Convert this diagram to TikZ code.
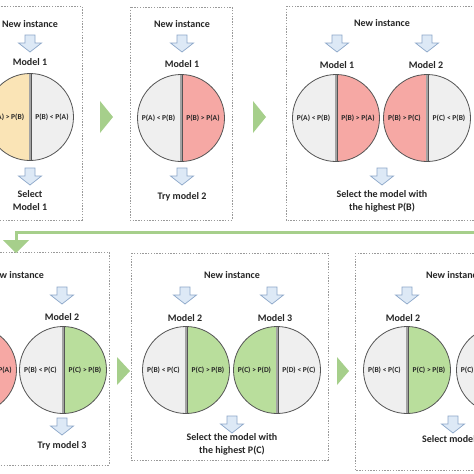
\documentclass[tikz,border=0pt]{standalone}
\usepackage{fontspec}
\setmainfont{Carlito}
\definecolor{gryhalf}{HTML}{EFEFEF}
\definecolor{redhalf}{HTML}{F6A8A4}
\definecolor{grnhalf}{HTML}{B9DE9C}
\definecolor{yelhalf}{HTML}{FAE4B6}
\definecolor{tri}{HTML}{A6CF8B}
\definecolor{bafill}{HTML}{DDE9F6}
\definecolor{badraw}{HTML}{8CA7C9}
\definecolor{outl}{HTML}{555555}
\definecolor{divg}{HTML}{A3A3A3}
\definecolor{panelc}{HTML}{9A9A9A}
\tikzset{
  hdr/.style={font=\fontsize{10}{12}\selectfont\bfseries, text=black!85, inner sep=0pt, align=center},
  lbl/.style={font=\fontsize{7.5}{9}\selectfont\bfseries, text=black!85, inner sep=0pt},
  panel/.style={draw=panelc, line width=0.6pt, dash pattern=on 1.4pt off 1.4pt},
  greentri/.style={fill=tri, draw=none},
  pics/model/.style n args={4}{code={
    \begin{scope}
      \clip (-44,-44) rectangle (0,44);
      \fill[#1] (0,0) circle[radius=43.5];
    \end{scope}
    \begin{scope}
      \clip (0,-44) rectangle (44,44);
      \fill[#2] (0,0) circle[radius=43.5];
    \end{scope}
    \draw[outl, line width=0.8pt] (0,0) circle[radius=43.5];
    \draw[outl, line width=3pt] (0,-43.5) -- (0,43.5);
    \draw[divg, line width=1.6pt] (0,-43) -- (0,43);
    \node[lbl] (-l) at (-22.5,0) {#3};
    \node[lbl] (-r) at (22,0) {#4};
  }},
  pics/barrow/.style={code={
    \draw[fill=bafill, draw=badraw, line width=0.7pt, line join=miter]
      (-5,0) -- (5,0) -- (5,8) -- (11.5,8) -- (0,17) -- (-11.5,8) -- (-5,8) -- cycle;
  }}
}
\begin{document}
\begin{tikzpicture}[x=1pt,y=-1pt]
\path[use as bounding box, clip] (0,0) rectangle (474,474);
\fill[white] (0,0) rectangle (474,474);

% ---------- panels ----------
\draw[panel] (-10,6) rectangle (82,220);
\draw[panel] (130,7) rectangle (232,220);
\draw[panel] (286,6) rectangle (490,220);
\draw[panel] (-10,252) rectangle (109,465);
\draw[panel] (131,253) rectangle (328,460);
\draw[panel] (355,253) rectangle (490,470);

% ---------- panel 1 ----------
\node[hdr] (p1new) at (30,24) {New instance};
\pic at (30,35) {barrow};
\node[hdr] (p1m1) at (30,62) {Model 1};
\pic (p1c) at (30,117) {model={yelhalf}{gryhalf}{P(A) > P(B)}{P(B) < P(A)}};
\pic at (30,168) {barrow};
\node[hdr] (p1sel) at (30,201) {Select\\[1pt]Model 1};

% ---------- panel 2 ----------
\node[hdr] (p2new) at (182,24) {New instance};
\pic at (182,35) {barrow};
\node[hdr] (p2m1) at (182,64) {Model 1};
\pic (p2c) at (181,118) {model={gryhalf}{redhalf}{P(A) < P(B)}{P(B) > P(A)}};
\pic at (182,168) {barrow};
\node[hdr] (p2try) at (182,197) {Try model 2};

% ---------- panel 3 ----------
\node[hdr] (p3new) at (382,23) {New instance};
\pic at (337,35) {barrow};
\pic at (427,35) {barrow};
\node[hdr] (p3m1) at (337,65) {Model 1};
\node[hdr] (p3m2) at (426,65) {Model 2};
\pic (p3c1) at (336,118) {model={gryhalf}{redhalf}{P(A) < P(B)}{P(B) > P(A)}};
\pic (p3c2) at (427,118) {model={redhalf}{gryhalf}{P(B) > P(C)}{P(C) < P(B)}};
\pic at (382,168) {barrow};
\node[hdr] (p3sel) at (382,201) {Select the model with\\[1pt]the highest P(B)};

% ---------- panel 4 ----------
\node[hdr] (p4new) at (16,275) {New instance};
\pic at (62,287) {barrow};
\node[hdr] (p4m2) at (62,317) {Model 2};
\pic (p4c1) at (-27,370) {model={gryhalf}{redhalf}{P(A) < P(B)}{P(B) > P(A)}};
\pic (p4c2) at (63,370) {model={gryhalf}{grnhalf}{P(B) < P(C)}{P(C) > P(B)}};
\pic at (62,418) {barrow};
\node[hdr] (p4try) at (62,446) {Try model 3};

% ---------- panel 5 ----------
\node[hdr] (p5new) at (232,275) {New instance};
\pic at (185,287) {barrow};
\pic at (272,287) {barrow};
\node[hdr] (p5m2) at (185,318) {Model 2};
\node[hdr] (p5m3) at (275,318) {Model 3};
\pic (p5c1) at (186,370) {model={gryhalf}{grnhalf}{P(B) < P(C)}{P(C) > P(B)}};
\pic (p5c2) at (277,370) {model={grnhalf}{gryhalf}{P(C) > P(D)}{P(D) < P(C)}};
\pic at (232,416) {barrow};
\node[hdr] (p5sel) at (232,444) {Select the model with\\[1pt]the highest P(C)};

% ---------- panel 6 ----------
\node[hdr] (p6new) at (454,275) {New instance};
\pic at (407,287) {barrow};
\node[hdr] (p6m2) at (403,318) {Model 2};
\pic (p6c1) at (407,370) {model={gryhalf}{grnhalf}{P(B) < P(C)}{P(C) > P(B)}};
\pic (p6c2) at (500,370) {model={gryhalf}{gryhalf}{P(C) < P(D)}{P(D) > P(C)}};
\pic at (453,416) {barrow};
\node[hdr, anchor=west] (p6sel) at (422,439) {Select model 2};

% ---------- green step triangles ----------
\fill[greentri] (100,101) -- (100,133) -- (113,117) -- cycle;
\fill[greentri] (253,101) -- (253,133) -- (266,117) -- cycle;
\fill[greentri] (117,357) -- (117,385) -- (130,371) -- cycle;
\fill[greentri] (337,357) -- (337,385) -- (349,371) -- cycle;

% ---------- row-change connector ----------
\coordinate (lstart) at (480,232);
\coordinate (lcorner) at (16,232);
\coordinate (ltip) at (16,253);
\draw[tri, line width=3pt] (lstart) -- (lcorner) -- ([yshift=10pt]lcorner |- ltip);
\fill[greentri] (3,240) -- (29,240) -- (ltip) -- cycle;
\end{tikzpicture}
\end{document}
